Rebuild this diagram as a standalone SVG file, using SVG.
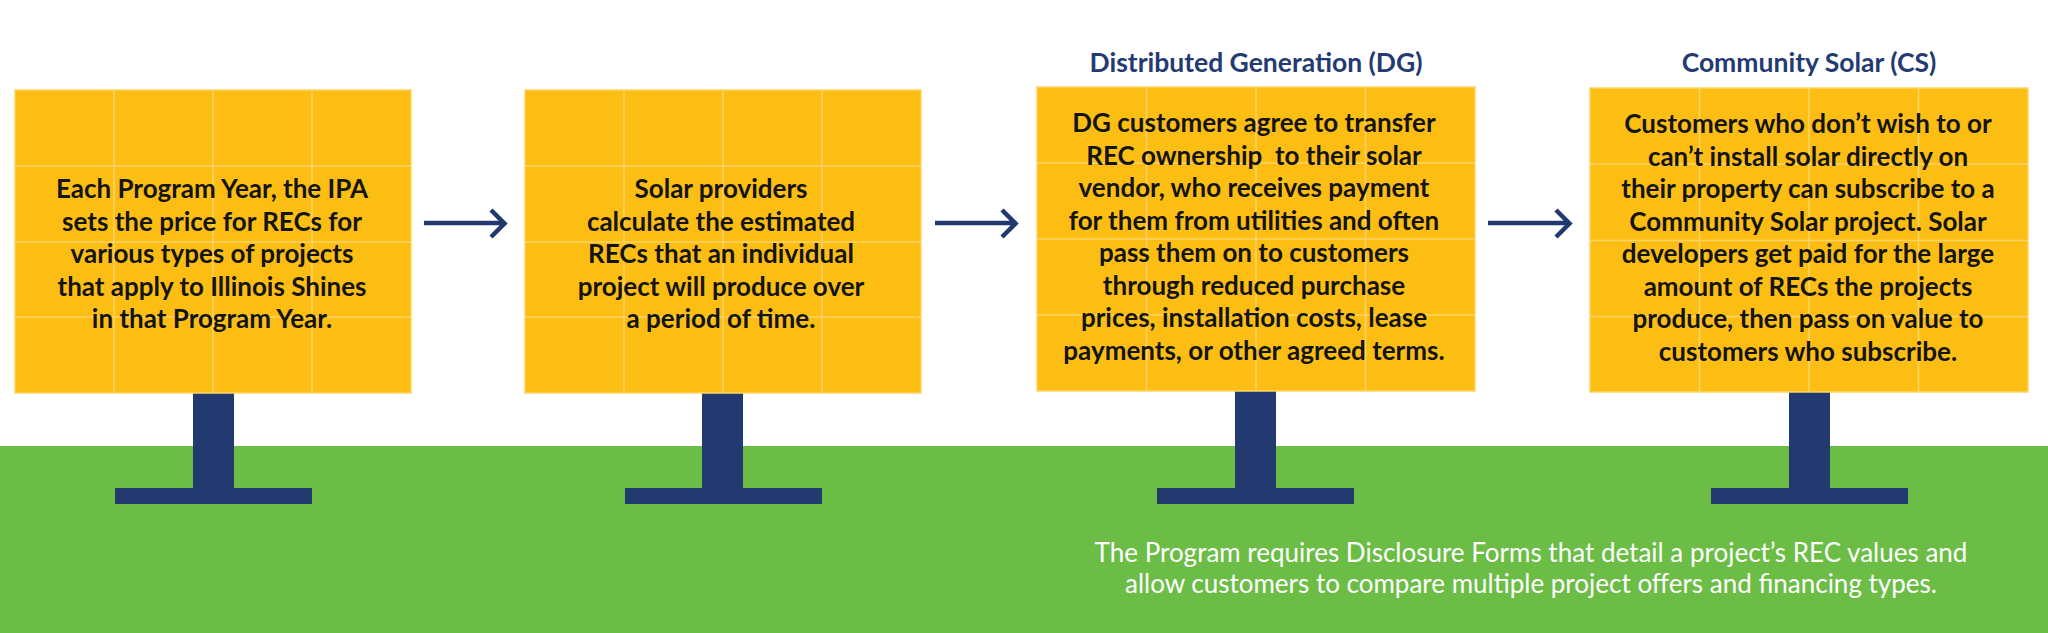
<svg xmlns="http://www.w3.org/2000/svg" width="2048" height="633" viewBox="0 0 2048 633">
<style>
.panel{fill:#FDBE14;stroke:#FDD467;stroke-width:1.5}
.grid{stroke:#FDD467;stroke-width:1.5;fill:none}
.stand{fill:#223A70}
.body{font-family:Lato,"Liberation Sans",sans-serif;font-weight:700;font-size:26px;fill:#141414;text-anchor:middle}
.title{font-family:Lato,"Liberation Sans",sans-serif;font-weight:700;font-size:26.5px;fill:#243A73;text-anchor:middle}
.foot{font-family:Lato,"Liberation Sans",sans-serif;font-weight:400;font-size:26px;fill:#ffffff;text-anchor:middle}
.arrow{fill:none;stroke:#22396F;stroke-width:4.5;stroke-linejoin:miter}
</style>
<rect x="0" y="0" width="2048" height="633" fill="#ffffff"/>
<rect id="ground" x="0" y="446" width="2048" height="187" fill="#6BBD46"/>

<g id="node1">
<rect class="stand" x="193" y="393" width="41" height="96"/>
<rect class="stand" x="115" y="488" width="197" height="16"/>
<rect class="panel" x="15" y="90" width="396" height="303"/>
<path class="grid" d="M114 90V393M213 90V393M312 90V393M15 166H411M15 242H411M15 317H411"/>
<text class="body" x="212" y="198">Each Program Year, the IPA</text>
<text class="body" x="212" y="230.5">sets the price for RECs for</text>
<text class="body" x="212" y="263">various types of projects</text>
<text class="body" x="212" y="295.5">that apply to Illinois Shines</text>
<text class="body" x="212" y="328">in that Program Year.</text>
</g>

<g id="node2">
<rect class="stand" x="702" y="393" width="41" height="96"/>
<rect class="stand" x="625" y="488" width="197" height="16"/>
<rect class="panel" x="525" y="90" width="396" height="303"/>
<path class="grid" d="M624 90V393M723 90V393M822 90V393M525 166H921M525 242H921M525 317H921"/>
<text class="body" x="721" y="198">Solar providers</text>
<text class="body" x="721" y="230.5">calculate the estimated</text>
<text class="body" x="721" y="263">RECs that an individual</text>
<text class="body" x="721" y="295.5">project will produce over</text>
<text class="body" x="721" y="328">a period of time.</text>
</g>

<g id="node3">
<text class="title" x="1256" y="72">Distributed Generation (DG)</text>
<rect class="stand" x="1235" y="391" width="41" height="98"/>
<rect class="stand" x="1157" y="488" width="197" height="16"/>
<rect class="panel" x="1037" y="87" width="438" height="304"/>
<path class="grid" d="M1146.5 87V391M1256 87V391M1365.5 87V391M1037 163H1475M1037 239H1475M1037 315H1475"/>
<text class="body" x="1254" y="132">DG customers agree to transfer</text>
<text class="body" x="1254" y="164.5" xml:space="preserve">REC ownership  to their solar</text>
<text class="body" x="1254" y="197">vendor, who receives payment</text>
<text class="body" x="1254" y="229.5">for them from utilities and often</text>
<text class="body" x="1254" y="262">pass them on to customers</text>
<text class="body" x="1254" y="294.5">through reduced purchase</text>
<text class="body" x="1254" y="327">prices, installation costs, lease</text>
<text class="body" x="1254" y="359.5">payments, or other agreed terms.</text>
</g>

<g id="node4">
<text class="title" x="1809" y="72">Community Solar (CS)</text>
<rect class="stand" x="1789" y="392" width="41" height="97"/>
<rect class="stand" x="1711" y="488" width="197" height="16"/>
<rect class="panel" x="1590" y="88" width="438" height="304"/>
<path class="grid" d="M1699.5 88V392M1809 88V392M1918.5 88V392M1590 164H2028M1590 240.5H2028M1590 316.5H2028"/>
<text class="body" x="1808" y="133">Customers who don’t wish to or</text>
<text class="body" x="1808" y="165.5">can’t install solar directly on</text>
<text class="body" x="1808" y="198">their property can subscribe to a</text>
<text class="body" x="1808" y="230.5">Community Solar project. Solar</text>
<text class="body" x="1808" y="263">developers get paid for the large</text>
<text class="body" x="1808" y="295.5">amount of RECs the projects</text>
<text class="body" x="1808" y="328">produce, then pass on value to</text>
<text class="body" x="1808" y="360.5">customers who subscribe.</text>
</g>

<g id="note">
<text class="foot" x="1531" y="562">The Program requires Disclosure Forms that detail a project’s REC values and</text>
<text class="foot" x="1531" y="593">allow customers to compare multiple project offers and financing types.</text>
</g>

<g id="connectors">
<path class="arrow" d="M424 223H505M491 210L504.5 223.5L491 237"/>
<path class="arrow" d="M935 223H1016M1002 210L1015.5 223.5L1002 237"/>
<path class="arrow" d="M1488 223H1570M1556 210L1569.5 223.5L1556 237"/>
</g>
</svg>
